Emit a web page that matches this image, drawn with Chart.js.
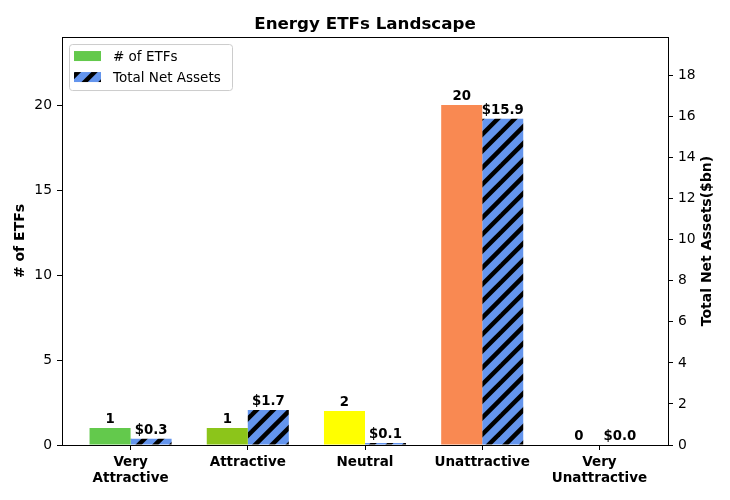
<!DOCTYPE html>
<html>
<head>
<meta charset="utf-8">
<title>Energy ETFs Landscape</title>
<script src="https://cdn.jsdelivr.net/npm/chart.js@4.4.0/dist/chart.umd.min.js"></script>
<style>
html, body { margin: 0; padding: 0; background: #fff; }
canvas { display: block; }
</style>
</head>
<body>
<canvas id="etfChart" width="730" height="500"></canvas>
<script>
// DATA

const categories = ['Very\nAttractive', 'Attractive', 'Neutral', 'Unattractive', 'Very\nUnattractive'];
const etfCounts = [1, 1, 2, 20, 0];
const netAssets = [0.3, 1.7, 0.1, 15.9, 0.0];
const etfColors = ['#63c94c', '#8cc51a', '#ffff00', '#f98952', '#b0b0b0'];
const leftTicks = [0, 5, 10, 15, 20];
const rightTicks = [0, 2, 4, 6, 8, 10, 12, 14, 16, 18];
const leftMax = 24;
const rightMax = 19.875;

const FONT = "'DejaVu Sans', sans-serif";

// hatch pattern for the net assets bars (blue with black "/" stripes)
function makeHatch() {
    const size = 50;
    const c = document.createElement('canvas');
    c.width = size;
    c.height = size;
    const g = c.getContext('2d');
    g.fillStyle = '#6495ed';
    g.fillRect(0, 0, size, size);
    g.strokeStyle = '#000';
    g.lineWidth = 4.5;
    const step = size / 3;
    for (let k = -1; k <= 7; k++) {
        const s = k * step;
        g.beginPath();
        g.moveTo(s + 10, -10);
        g.lineTo(s - size - 10, size + 10);
        g.stroke();
    }
    return g.createPattern(c, 'repeat');
}
const hatch = makeHatch();

// pin the plot area like the original figure
const fixWidth = w => scale => { scale.width = w; };
const fixHeight = h => scale => { scale.height = h; };

const boxPlugin = {
    id: 'boxPlugin',
    afterDatasetsDraw(chart) {
        const { ctx, chartArea: a } = chart;
        ctx.save();
        ctx.strokeStyle = '#000';
        ctx.lineWidth = 1;
        ctx.strokeRect(Math.round(a.left) + 0.5, Math.round(a.top) + 0.5,
            Math.round(a.right - a.left), Math.round(a.bottom - a.top));
        ctx.restore();
    }
};

const barLabels = {
    id: 'barLabels',
    afterDatasetsDraw(chart) {
        const ctx = chart.ctx;
        ctx.save();
        ctx.font = 'bold 13.3px ' + FONT;
        ctx.fillStyle = '#000';
        ctx.textAlign = 'center';
        ctx.textBaseline = 'alphabetic';
        chart.data.datasets.forEach((ds, i) => {
            const meta = chart.getDatasetMeta(i);
            meta.data.forEach((el, j) => {
                const v = ds.data[j].y;
                const txt = i === 0 ? String(v) : '$' + v.toFixed(1);
                ctx.fillText(txt, el.x, el.y - 5);
            });
        });
        ctx.restore();
    }
};

const legendBox = {
    id: 'legendBox',
    afterDatasetsDraw(chart) {
        const { ctx, chartArea: a } = chart;
        const x = a.left + 7, y = a.top + 7, w = 163, h = 46;
        ctx.save();
        ctx.beginPath();
        ctx.roundRect(x + 0.5, y + 0.5, w, h, 3);
        ctx.fillStyle = 'rgba(255,255,255,0.8)';
        ctx.fill();
        ctx.strokeStyle = '#cccccc';
        ctx.lineWidth = 1;
        ctx.stroke();
        const items = [
            { label: '# of ETFs', fill: etfColors[0] },
            { label: 'Total Net Assets', fill: hatch }
        ];
        ctx.font = '13.5px ' + FONT;
        ctx.textBaseline = 'middle';
        ctx.textAlign = 'left';
        items.forEach((it, k) => {
            const cy = y + 12 + k * 21;
            ctx.fillStyle = it.fill;
            ctx.fillRect(x + 5, cy - 5, 27, 10);
            ctx.fillStyle = '#000';
            ctx.fillText(it.label, x + 44, cy + 1);
        });
        ctx.restore();
    }
};

const rightTitle = {
    id: 'rightTitle',
    afterDraw(chart) {
        const { ctx, chartArea: a } = chart;
        ctx.save();
        ctx.translate(707, (a.top + a.bottom) / 2);
        ctx.rotate(-Math.PI / 2);
        ctx.font = 'bold 14px ' + FONT;
        ctx.fillStyle = '#000';
        ctx.textAlign = 'center';
        ctx.textBaseline = 'middle';
        ctx.fillText('Total Net Assets($bn)', 0, 0);
        ctx.restore();
    }
};

const tickFont = { family: FONT, size: 13.9 };

const chart = new Chart(document.getElementById('etfChart'), {
    type: 'bar',
    data: {
        datasets: [
            {
                label: '# of ETFs',
                data: etfCounts.map((v, i) => ({ x: i, y: v })),
                backgroundColor: etfColors,
                borderWidth: 0,
                yAxisID: 'y'
            },
            {
                label: 'Total Net Assets',
                data: netAssets.map((v, i) => ({ x: i, y: v })),
                backgroundColor: hatch,
                borderWidth: 0,
                yAxisID: 'y1'
            }
        ]
    },
    options: {
        responsive: false,
        animation: false,
        devicePixelRatio: 1,
        layout: { padding: 0 },
        categoryPercentage: 0.7,
        barPercentage: 1.0,
        plugins: {
            legend: { display: false },
            tooltip: { enabled: false },
            title: {
                display: true,
                text: 'Energy ETFs Landscape',
                color: '#000',
                font: { family: FONT, size: 16.7, weight: 'bold' },
                padding: { top: 15, bottom: 2 }
            }
        },
        scales: {
            x: {
                type: 'linear',
                offset: false,
                min: -0.585,
                max: 4.585,
                afterFit: fixHeight(55),
                ticks: {
                    stepSize: 1,
                    includeBounds: false,
                    autoSkip: false,
                    maxRotation: 0,
                    padding: 4,
                    color: '#000',
                    font: { family: FONT, size: 13.5, weight: 'bold' },
                    callback: v => (categories[v] !== undefined ? categories[v].split('\n') : '')
                },
                grid: { offset: false, drawOnChartArea: false, drawTicks: true, tickLength: 5, tickColor: '#000' },
                border: { display: false }
            },
            y: {
                position: 'left',
                min: 0,
                max: leftMax,
                afterFit: fixWidth(62),
                afterBuildTicks: s => { s.ticks = leftTicks.map(v => ({ value: v })); },
                ticks: { color: '#000', font: tickFont, padding: 5 },
                grid: { drawOnChartArea: false, drawTicks: true, tickLength: 5, tickColor: '#000' },
                border: { display: false },
                title: {
                    display: true,
                    text: '# of ETFs',
                    color: '#000',
                    font: { family: FONT, size: 14, weight: 'bold' },
                    padding: { top: 12, bottom: 0 }
                }
            },
            y1: {
                position: 'right',
                min: 0,
                max: rightMax,
                afterFit: fixWidth(62),
                afterBuildTicks: s => { s.ticks = rightTicks.map(v => ({ value: v })); },
                ticks: { color: '#000', font: tickFont, padding: 5 },
                grid: { drawOnChartArea: false, drawTicks: true, tickLength: 5, tickColor: '#000' },
                border: { display: false }
            }
        }
    },
    plugins: [boxPlugin, barLabels, legendBox, rightTitle]
});
</script>
</body>
</html>
